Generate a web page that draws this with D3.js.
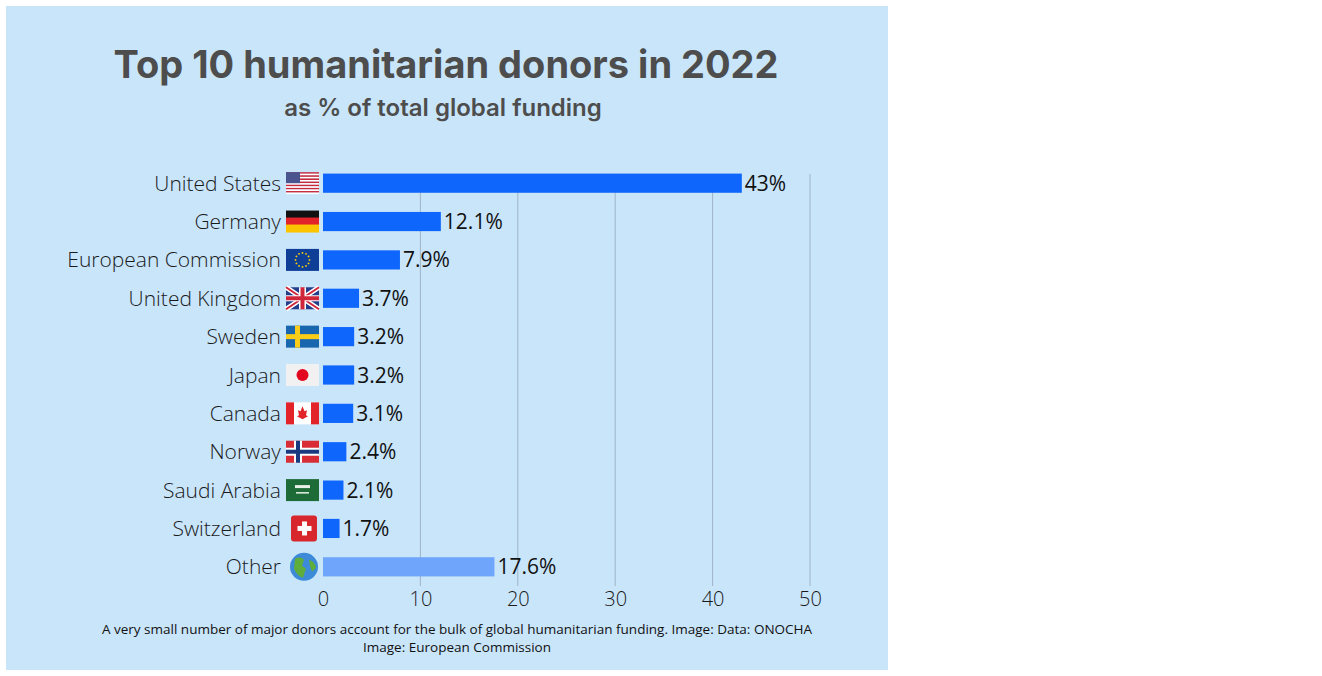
<!DOCTYPE html>
<html><head><meta charset="utf-8">
<script src="https://cdn.jsdelivr.net/npm/d3@7"></script>
<style>body{margin:0;background:#fff}</style>
</head><body>
<svg id="chart" width="1322" height="676"></svg>
<script>
let donors = ["United States","Germany","European Commission","United Kingdom","Sweden","Japan","Canada","Norway","Saudi Arabia","Switzerland","Other"];
let shares = [43,12.1,7.9,3.7,3.2,3.2,3.1,2.4,2.1,1.7,17.6];
let labels = ["43%","12.1%","7.9%","3.7%","3.2%","3.2%","3.1%","2.4%","2.1%","1.7%","17.6%"];
let ticks = [0,10,20,30,40,50];

let svg = d3.select('#chart');
svg.append('rect').attr('x',6).attr('y',6).attr('width',882).attr('height',664).attr('fill','#c9e5fa');

svg.append('text').attr('x',446).attr('y',78).attr('text-anchor','middle')
  .attr('font-family','Inter').attr('font-weight',700).attr('font-size',38).attr('fill','#4d4d4d')
  .text('Top 10 humanitarian donors in 2022');
svg.append('text').attr('x',443).attr('y',116).attr('text-anchor','middle')
  .attr('font-family','Inter').attr('font-weight',600).attr('font-size',24).attr('fill','#4d4d4d')
  .text('as % of total global funding');

let x = d3.scaleLinear().domain([0,50]).range([323,810]);
let y = d3.scaleBand().domain(donors).range([164,586]).paddingInner(0.5).paddingOuter(0.25);

let g = svg.append('g');
g.selectAll('.grid').data(ticks.slice(1)).enter().append('line')
  .attr('x1',d=>x(d)).attr('x2',d=>x(d)).attr('y1',174).attr('y2',586)
  .attr('stroke','#9fb4c6').attr('stroke-width',1);

g.selectAll('.bar').data(donors).enter().append('rect')
  .attr('x',x(0)).attr('y',d=>y(d)).attr('height',y.bandwidth())
  .attr('width',(d,i)=>x(shares[i])-x(0))
  .attr('fill',(d,i)=>d==='Other'?'#6fa5fb':'#0f66fc');

g.selectAll('.val').data(donors).enter().append('text')
  .attr('x',(d,i)=>x(shares[i])+3).attr('y',d=>y(d)+y.bandwidth()/2+7.5)
  .attr('font-family','Open Sans').attr('font-size',21).attr('fill','#111')
  .text((d,i)=>labels[i]);

g.selectAll('.lab').data(donors).enter().append('text')
  .attr('x',281).attr('y',d=>y(d)+y.bandwidth()/2+7.5).attr('text-anchor','end')
  .attr('font-family','Open Sans').attr('font-weight',300).attr('font-size',21).attr('fill','#1a1a1a')
  .text(d=>d);

let axis = d3.axisBottom(x).tickValues(ticks).tickSize(0).tickPadding(6);
let ax = svg.append('g').attr('transform','translate(0,586)').call(axis);
ax.select('.domain').remove();
ax.selectAll('text').attr('font-family','Open Sans').attr('font-weight',300).attr('font-size',20).attr('fill','#1a1a1a');

// flags
function flag(d){
  let cy = y(d)+y.bandwidth()/2, fx=286, fy=cy-11, w=33, h=22;
  let f = svg.append('g').attr('transform',`translate(${fx},${fy})`);
  let r=(a,b,c,e,col)=>f.append('rect').attr('x',a).attr('y',b).attr('width',c).attr('height',e).attr('fill',col);
  switch(d){
    case 'United States':
      for(let i=0;i<7;i++){r(0,i*22/7,w,22/14,'#c8283c');r(0,i*22/7+11/7,w,11/7,'#fff');}
      r(0,0,14,11,'#4a5590'); break;
    case 'Germany': r(0,0,w,8,'#111');r(0,7,w,8,'#e3232a');r(0,14,w,8,'#fbc400'); break;
    case 'European Commission':
      r(0,0,w,h,'#0f3e96');
      for(let i=0;i<12;i++){let a=i*Math.PI/6;f.append('circle').attr('cx',16.5+7*Math.cos(a)).attr('cy',11+7*Math.sin(a)).attr('r',0.9).attr('fill','#ffd600');}
      break;
    case 'United Kingdom':
      r(0,0,w,h,'#243d8a');
      f.append('path').attr('d',`M0,0L${w},${h}M${w},0L0,${h}`).attr('stroke','#fff').attr('stroke-width',5);
      f.append('path').attr('d',`M0,0L${w},${h}M${w},0L0,${h}`).attr('stroke','#d0263a').attr('stroke-width',2);
      r(13,0,7,h,'#fff');r(0,8,w,6,'#fff');r(14.5,0,4,h,'#d0263a');r(0,9,w,4,'#d0263a'); break;
    case 'Sweden': r(0,0,w,h,'#1867ae');r(9,0,5,h,'#fccd18');r(0,8.5,w,5,'#fccd18'); break;
    case 'Japan': r(0,0,w,h,'#f1f1f1');f.append('circle').attr('cx',16.5).attr('cy',11).attr('r',6).attr('fill','#e3061f'); break;
    case 'Canada': r(0,0,w,h,'#fff');r(0,0,8,h,'#e3232a');r(25,0,8,h,'#e3232a');
      f.append('path').attr('d','M16.5,4L18.5,9L21,8L20,13L22,14L16.5,17L11,14L13,13L12,8L14.5,9Z').attr('fill','#e3232a'); break;
    case 'Norway': r(0,0,w,h,'#d82d35');r(8,0,8,h,'#fff');r(0,7,w,8,'#fff');r(10,0,4,h,'#1a3a80');r(0,9,w,4,'#1a3a80'); break;
    case 'Saudi Arabia': r(0,0,w,h,'#1d6c37');r(9,6,15,3,'#e8f0e8');r(10,13,13,1.5,'#e8f0e8'); break;
    case 'Switzerland': f.append('rect').attr('x',5).attr('y',-2).attr('width',26).attr('height',26).attr('rx',3).attr('fill','#d7272c');
      r(16,4,5,14,'#fff');r(11.5,8.5,14,5,'#fff'); break;
    case 'Other':
      f.append('circle').attr('cx',18).attr('cy',11).attr('r',14).attr('fill','#3c8ad8');
      f.append('path').attr('d','M9,3Q14,0 18,4L16,10L20,13L17,22Q11,20 8,13Z').attr('fill','#5fae3c');
      f.append('path').attr('d','M23,4Q29,6 30,12L26,16L24,10Z').attr('fill','#5fae3c'); break;
  }
}
donors.forEach(flag);

svg.append('text').attr('x',457).attr('y',634).attr('text-anchor','middle')
  .attr('font-family','Open Sans').attr('font-size',13.5).attr('fill','#111')
  .text('A very small number of major donors account for the bulk of global humanitarian funding. Image: Data: ONOCHA');
svg.append('text').attr('x',457).attr('y',652).attr('text-anchor','middle')
  .attr('font-family','Open Sans').attr('font-size',13.5).attr('fill','#111')
  .text('Image: European Commission');
</script>
</body></html>
